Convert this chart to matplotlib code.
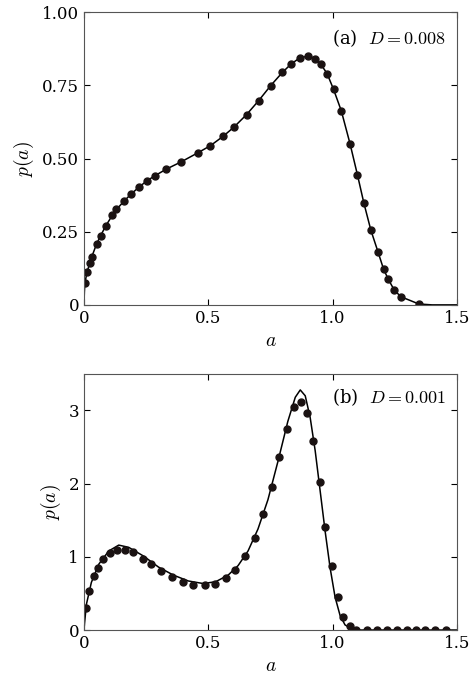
import numpy as np
import matplotlib
matplotlib.use("Agg")
import matplotlib.pyplot as plt

plt.rcParams['font.family'] = ['DejaVu Serif']
plt.rcParams['mathtext.fontset'] = 'cm'

# Panel (a) D=0.008 : simulation points
a_pts = [0.004,0.013,0.024,0.032,0.051,0.067,0.088,0.115,0.131,0.162,0.189,0.221,0.252,0.285,0.332,0.392,0.457,0.509,0.56,0.603,0.654,0.703,0.751,0.798,0.832,0.868,0.903,0.931,0.952,0.978,1.004,1.035,1.07,1.10,1.126,1.154,1.183,1.205,1.224,1.247,1.274,1.347]
p_a_pts = [0.074,0.114,0.142,0.165,0.208,0.236,0.27,0.307,0.326,0.355,0.378,0.402,0.423,0.441,0.464,0.489,0.519,0.544,0.576,0.607,0.65,0.698,0.749,0.794,0.822,0.844,0.85,0.841,0.823,0.79,0.736,0.663,0.551,0.444,0.347,0.255,0.18,0.122,0.0875,0.052,0.028,0.003]
# Panel (a) theory curve
a_curve = [0.0,0.002] + a_pts + [1.40,1.5]
p_a_curve = [0.0,0.045] + p_a_pts + [0.0,0.0]

# Panel (b) D=0.001 : simulation points
b_pts = [0.008,0.021,0.040,0.058,0.078,0.105,0.134,0.165,0.196,0.236,0.268,0.309,0.353,0.397,0.44,0.487,0.529,0.572,0.609,0.649,0.688,0.722,0.755,0.785,0.816,0.845,0.873,0.899,0.923,0.95,0.971,0.997,1.02,1.041,1.068,1.095,1.138,1.178,1.218,1.258,1.299,1.336,1.373,1.413,1.457]
p_b_pts = [0.30,0.54,0.74,0.845,0.97,1.05,1.10,1.10,1.06,0.97,0.90,0.81,0.73,0.66,0.62,0.61,0.635,0.71,0.82,1.01,1.26,1.59,1.95,2.37,2.75,3.05,3.12,2.97,2.58,2.02,1.41,0.87,0.45,0.18,0.055,0,0,0,0,0,0,0,0,0,0]
# Panel (b) theory curve
b_curve = [0,0.01,0.03,0.06,0.1,0.14,0.18,0.24,0.3,0.36,0.42,0.48,0.53,0.58,0.62,0.66,0.7,0.74,0.78,0.82,0.85,0.87,0.89,0.91,0.93,0.95,0.97,0.99,1.01,1.03,1.05,1.08,1.1,1.5]
p_b_curve = [0,0.35,0.65,0.9,1.08,1.16,1.13,1.01,0.86,0.75,0.67,0.635,0.66,0.75,0.88,1.08,1.38,1.78,2.3,2.85,3.18,3.28,3.2,2.9,2.45,1.9,1.35,0.85,0.45,0.2,0.07,0.01,0,0]

fig = plt.figure(figsize=(4.74,6.76), dpi=100)
ax1 = fig.add_axes([0.177,0.549,0.787,0.433])
ax2 = fig.add_axes([0.177,0.068,0.787,0.379])

def style(ax):
    ax.tick_params(direction='in', top=True, right=True, labelsize=12, length=4)
    for s in ax.spines.values():
        s.set_color('#555555')
    ax.set_xlim(0,1.5)
    ax.set_xticks([0,0.5,1.0,1.5])
    ax.set_xticklabels(['0','0.5','1.0','1.5'])
    ax.set_xlabel('$a$', fontsize=14)
    ax.set_ylabel('$p(a)$', fontsize=14)

ax1.plot(a_curve, p_a_curve, color='black', lw=1.1)
ax1.plot(a_pts, p_a_pts, 'o', color='#1a1212', ms=5)
style(ax1)
ax1.set_ylim(0,1.0)
ax1.set_yticks([0,0.25,0.5,0.75,1.0])
ax1.set_yticklabels(['0','0.25','0.50','0.75','1.00'])
ax1.text(0.97,0.95,'(a)  $D=0.008$', transform=ax1.transAxes, ha='right', va='top', fontsize=13)

ax2.plot(b_curve, p_b_curve, color='black', lw=1.1)
ax2.plot(b_pts, p_b_pts, 'o', color='#1a1212', ms=5)
style(ax2)
ax2.set_ylim(0,3.5)
ax2.set_yticks([0,1,2,3])
ax2.text(0.97,0.95,'(b)  $D=0.001$', transform=ax2.transAxes, ha='right', va='top', fontsize=13)

fig.savefig('out.png', dpi=100)
